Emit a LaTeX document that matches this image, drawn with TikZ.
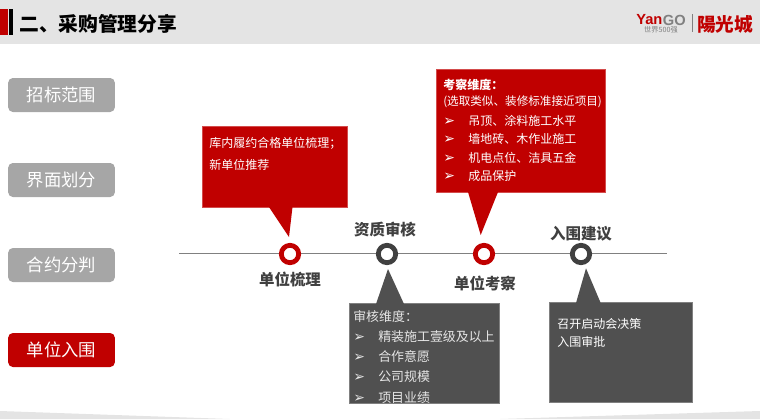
\documentclass[tikz,border=0pt]{standalone}
\usepackage{fontspec}
\setmainfont{Noto Sans CJK SC}
\newfontfamily\symfont{DejaVu Sans}
\newfontfamily\logofont{Liberation Sans}
\definecolor{hdgray}{HTML}{E4E4E4}
\definecolor{btngray}{HTML}{A6A6A6}
\definecolor{yanred}{HTML}{C00000}
\definecolor{boxgray}{HTML}{505050}
\definecolor{ringgray}{HTML}{404040}
\newcommand{\bulletitem}[1]{\makebox[18.75pt][l]{\symfont\fontsize{10.5}{9}\selectfont ➢}#1}
\tikzset{
  btn/.style={shape=rectangle, rounded corners=3.5pt, fill=btngray, text=white, minimum width=80pt, minimum height=25.5pt, font=\fontsize{13}{13}\selectfont},
  ring/.style={shape=circle, draw=#1, fill=white, line width=3.6pt, minimum size=13pt, inner sep=0pt},
  stage/.style={text=ringgray, font=\bfseries\fontsize{11.6}{11.6}\selectfont, inner sep=0pt},
  redbox/.style={shape=rectangle, fill=yanred, draw=yanred!70!white, line width=0.4pt, inner sep=0pt},
  graybox/.style={shape=rectangle, fill=boxgray, draw=gray, line width=0.4pt, inner sep=0pt},
  txt/.style={anchor=west, text=white, inner sep=0pt, font=\fontsize{9}{9}\selectfont},
  txtb/.style={anchor=west, text=white!90!black, inner sep=0pt, font=\fontsize{9.7}{9.7}\selectfont}
}
\begin{document}
\begin{tikzpicture}[x=0.75pt, y=-0.75pt]
\useasboundingbox (0,0) rectangle (760,419);
% header
\fill[hdgray] (0,0) rectangle (760,43.5);
\fill[yanred] (0,9) rectangle (8,35);
\fill[black] (9,9) rectangle (12.5,35);
\node[anchor=west, inner sep=0pt, font=\bfseries\fontsize{14.8}{14.8}\selectfont] (title) at (19,24) {二、采购管理分享};
% logo
\node[anchor=west, inner sep=0pt, text=yanred, font=\logofont\bfseries\fontsize{11}{11}\selectfont] (yan) at (636,20) {Yan};
\node[anchor=west, inner sep=0pt, text=gray, font=\logofont\bfseries\fontsize{11}{11}\selectfont] (go) at (yan.east) {GO};
\node[inner sep=0pt, text=gray, font=\fontsize{5.4}{5.4}\selectfont] (rank) at (661,30) {世界500强};
\node[anchor=west, inner sep=0pt, text=yanred, font=\bfseries\fontsize{14}{14}\selectfont] (brand) at (697,24) {陽光城};
\coordinate (sepT) at (692,14);
\coordinate (sepB) at (692,32);
\draw[gray, line width=0.4pt] (sepT) -- (sepB);
% bottom wedges
\fill[hdgray] (0,411) -- (230,419) -- (0,419) -- cycle;
\fill[hdgray] (500,419) -- (760,411) -- (760,419) -- cycle;
% left buttons
\node[btn] (b1) at (61.5,95) {招标范围};
\node[btn] (b2) at (61.5,180) {界面划分};
\node[btn] (b3) at (61.5,265) {合约分判};
\node[btn, fill=yanred] (b4) at (61.5,350) {单位入围};
% timeline
\coordinate (lineL) at (179,253);
\coordinate (lineR) at (667,253);
\draw[gray, line width=0.6pt] (lineL) -- (lineR);
\node[ring=yanred] (r1) at (290,254) {};
\node[ring=ringgray] (r2) at (387,254) {};
\node[ring=yanred] (r3) at (484,254) {};
\node[ring=ringgray] (r4) at (581,254) {};
\node[stage] (s1) at (290,279) {单位梳理};
\node[stage] (s2) at (385,230) {资质审核};
\node[stage] (s3) at (485,283) {单位考察};
\node[stage] (s4) at (581,234) {入围建议};
% callout 1
\node[redbox, anchor=north west, minimum width=109.1pt, minimum height=61.1pt] (c1) at (201.5,126) {};
\fill[yanred] (269,207) -- (289,237) -- (292.5,207) -- cycle;
\node[txt] (c1a) at (209,143) {库内履约合格单位梳理；};
\node[txt] (c1b) at (209,165) {新单位推荐};
% callout 2
\node[redbox, anchor=north west, minimum width=127pt, minimum height=92.6pt] (c2) at (436,69) {};
\fill[yanred] (468,192) -- (480.7,235) -- (498,192) -- cycle;
\node[txt] (c2a) at (443,84.5) {\bfseries 考察维度：};
\node[txt, font=\fontsize{8.7}{8.7}\selectfont] (c2b) at (443,102) {(选取类似、装修标准接近项目)};
\node[txt] (c2c) at (443,121) {\bulletitem{吊顶、涂料施工水平}};
\node[txt] (c2d) at (443,139) {\bulletitem{墙地砖、木作业施工}};
\node[txt] (c2e) at (443,158) {\bulletitem{机电点位、洁具五金}};
\node[txt] (c2f) at (443,176) {\bulletitem{成品保护}};
% callout 3
\node[graybox, anchor=north west, minimum width=112.7pt, minimum height=75pt] (c3) at (349,303.3) {};
\fill[boxgray] (376,304) -- (388,269) -- (404,304) -- cycle;
\node[txtb] (c3a) at (353,317) {审核维度：};
\node[txtb] (c3b) at (353,337) {\bulletitem{精装施工壹级及以上}};
\node[txtb] (c3c) at (353,357) {\bulletitem{合作意愿}};
\node[txtb] (c3d) at (353,377) {\bulletitem{公司规模}};
\node[txtb] (c3e) at (353,398) {\bulletitem{项目业绩}};
% callout 4
\node[graybox, anchor=north west, minimum width=107pt, minimum height=75pt] (c4) at (549,302.3) {};
\fill[boxgray] (576,303) -- (586,268.3) -- (600.7,303) -- cycle;
\node[txt] (c4a) at (557,324) {召开启动会决策};
\node[txt] (c4b) at (557,342) {入围审批};
\end{tikzpicture}
\end{document}
